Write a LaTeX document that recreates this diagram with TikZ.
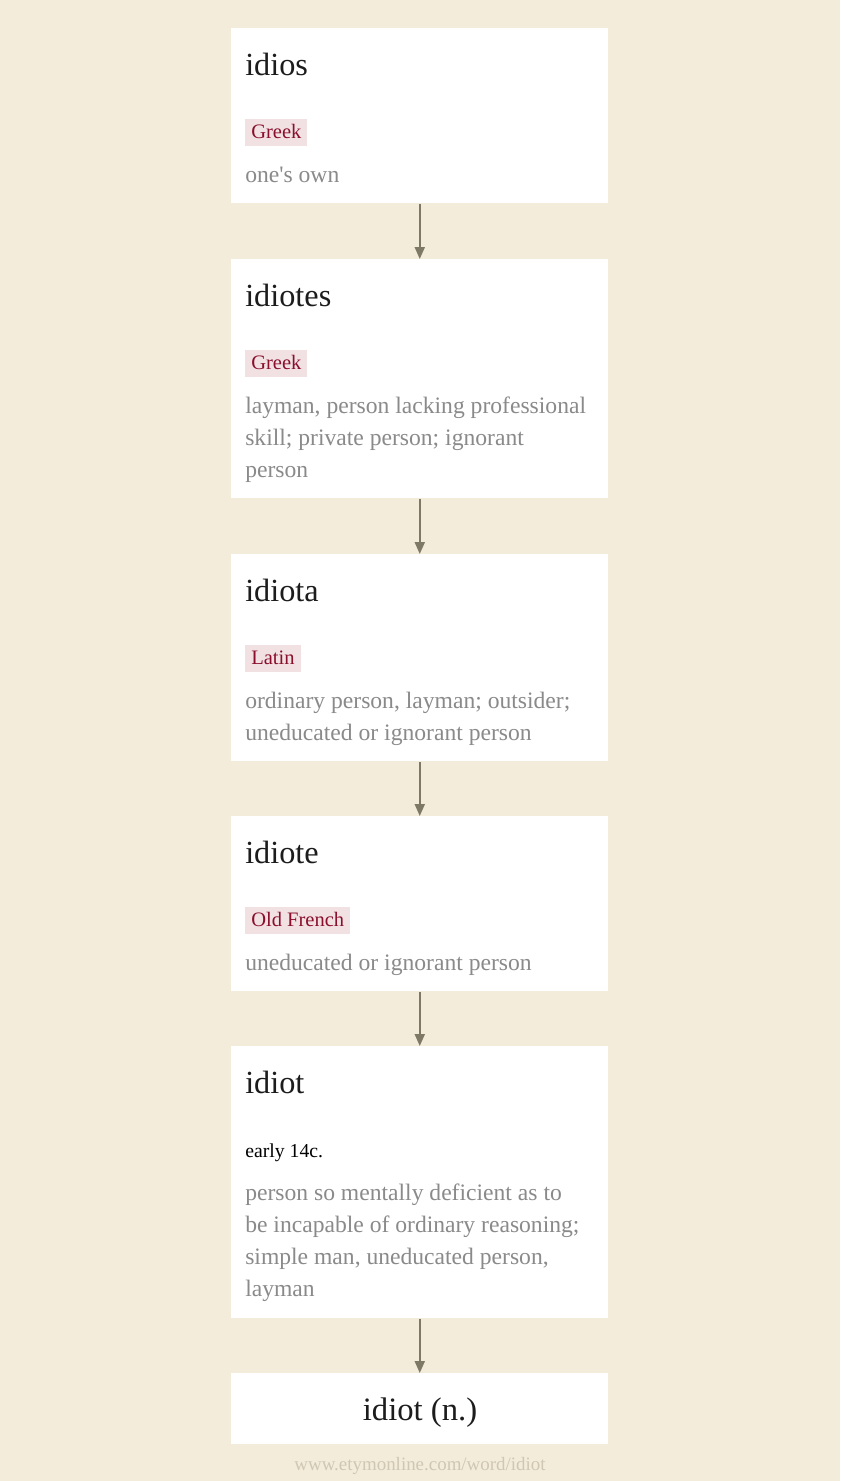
\documentclass[tikz,border=0pt]{standalone}
\usepackage{fontspec}
\setmainfont{Liberation Serif}
\usetikzlibrary{arrows.meta}
\definecolor{bgc}{HTML}{F3ECDB}
\definecolor{titlec}{HTML}{1C1C1C}
\definecolor{glossc}{HTML}{8A8A8A}
\definecolor{tagbg}{HTML}{F1E1E3}
\definecolor{tagtx}{HTML}{8A0F2C}
\definecolor{arrc}{HTML}{7E7867}
\definecolor{footc}{HTML}{CFC7B3}
\tikzset{
  card/.style={draw=none, fill=white, rectangle, inner sep=0pt, minimum width=282.75pt, anchor=north west},
  headw/.style={inner sep=0pt, anchor=base west, text=titlec, font=\fontsize{24.2pt}{28pt}\selectfont},
  tagb/.style={fill=tagbg, text=tagtx, inner xsep=4.5pt, inner ysep=0pt, minimum height=20.25pt, text height=12pt, text depth=2.8pt, anchor=west, font=\fontsize{15.4pt}{18pt}\selectfont},
  datetx/.style={inner sep=0pt, anchor=base west, text=black, font=\fontsize{14.8pt}{17pt}\selectfont},
  gloss/.style={inner sep=0pt, anchor=base west, text=glossc, font=\fontsize{17.7pt}{24pt}\selectfont},
  arr/.style={draw=arrc, line width=1.5pt, -{Triangle[length=9pt,width=7.5pt]}},
}
\begin{document}
\begin{tikzpicture}[x=0.75pt,y=-0.75pt]
\fill[bgc] (0,0) rectangle (840,1481);
\useasboundingbox (0,0) rectangle (840,1481);
% cards
\node[card, minimum height=131.25pt] (b1) at (231,28) {};
\node[card, minimum height=179.25pt] (b2) at (231,259) {};
\node[card, minimum height=155.25pt] (b3) at (231,554) {};
\node[card, minimum height=131.25pt] (b4) at (231,816) {};
\node[card, minimum height=204pt] (b5) at (231,1046) {};
\node[card, minimum height=53.25pt] (b6) at (231,1373) {};
% card 1
\node[headw] (h1) at (245,75) {idios};
\node[tagb] (l1) at (245,132.5) {Greek};
\node[gloss] (g1) at (245,182) {one\textquotesingle s own};
% card 2
\node[headw] (h2) at (245,306) {idiotes};
\node[tagb] (l2) at (245,363.5) {Greek};
\node[gloss] (g2a) at (245,413) {layman, person lacking professional};
\node[gloss] (g2b) at (245,445) {skill; private person; ignorant};
\node[gloss] (g2c) at (245,477) {person};
% card 3
\node[headw] (h3) at (245,601) {idiota};
\node[tagb] (l3) at (245,658.5) {Latin};
\node[gloss] (g3a) at (245,708) {ordinary person, layman; outsider;};
\node[gloss] (g3b) at (245,740) {uneducated or ignorant person};
% card 4
\node[headw] (h4) at (245,863) {idiote};
\node[tagb] (l4) at (245,920.5) {Old French};
\node[gloss] (g4) at (245,970) {uneducated or ignorant person};
% card 5
\node[headw] (h5) at (245,1093) {idiot};
\node[datetx] (d5) at (245,1157) {early 14c.};
\node[gloss] (g5a) at (245,1200) {person so mentally deficient as to};
\node[gloss] (g5b) at (245,1232) {be incapable of ordinary reasoning;};
\node[gloss] (g5c) at (245,1264) {simple man, uneducated person,};
\node[gloss] (g5d) at (245,1296) {layman};
% card 6
\node[inner sep=0pt, anchor=base, text=titlec, font=\fontsize{24.5pt}{28pt}\selectfont] (h6) at (420,1420) {idiot (n.)};
% footer
\node[inner sep=0pt, anchor=base, text=footc, font=\fontsize{14.2pt}{17pt}\selectfont] (ft) at (420,1470) {www.etymonline.com/word/idiot};
% arrows
\draw[arr] (b1.south) -- (b2.north);
\draw[arr] (b2.south) -- (b3.north);
\draw[arr] (b3.south) -- (b4.north);
\draw[arr] (b4.south) -- (b5.north);
\draw[arr] (b5.south) -- (b6.north);
\end{tikzpicture}
\end{document}
